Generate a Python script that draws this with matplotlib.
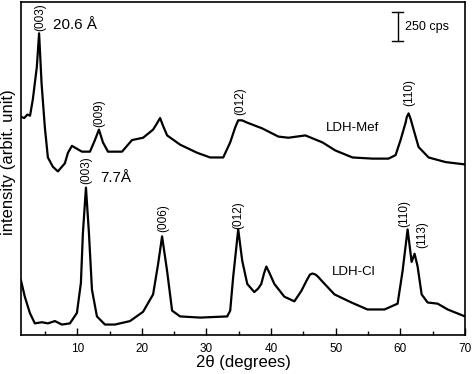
import matplotlib
matplotlib.use("Agg")
import matplotlib.pyplot as plt
from matplotlib.ticker import MultipleLocator

plt.rcParams["font.family"] = ["Liberation Sans", "DejaVu Sans"]

# LDH-Mef pattern (2theta in degrees, intensity in cps incl. offset)
mef_2theta = [1.3, 1.8, 2.3, 2.7, 3.13, 3.75, 4.1, 4.48, 4.99, 5.46, 6.23, 7.01,
              8.09, 8.56, 9.18, 10.73, 11.97, 12.74, 13.36, 13.98, 14.76, 16.93,
              18.48, 20.19, 21.74, 22.3, 22.82, 23.3, 23.91, 25.93, 28.57, 30.57,
              32.59, 33.67, 34.45, 34.91, 35.5, 36.31, 38.64, 41.12, 42.67, 45.30,
              47.94, 49.95, 52.59, 55.69, 58.17, 59.26, 60.03, 60.81, 61.0, 61.27,
              61.6, 62.05, 62.82, 64.37, 67.01, 70.0]
mef_counts = [1880, 1870, 1900, 1890, 2030, 2310, 2600, 2170, 1790, 1530, 1450, 1410,
              1480, 1570, 1630, 1580, 1580, 1680, 1770, 1660, 1580, 1580,
              1680, 1700, 1770, 1820, 1870, 1800, 1720, 1640, 1570, 1530,
              1530, 1660, 1790, 1850, 1850, 1830, 1780, 1710, 1700, 1720,
              1660, 1590, 1530, 1520, 1520, 1550, 1680, 1830, 1880, 1910,
              1860, 1770, 1620, 1530, 1490, 1470]

# LDH-Cl pattern
cl_2theta = [1.3, 1.89, 2.67, 3.44, 4.53, 5.46, 6.54, 7.63, 8.87, 9.95, 10.57, 10.88,
             11.35, 11.81, 12.28, 13.05, 14.29, 15.84, 18.17, 20.19, 21.74, 22.51,
             23.13, 23.91, 24.68, 25.92, 29.02, 33.21, 33.67, 34.13, 34.91, 35.53,
             36.31, 37.39, 38.0, 38.48, 38.9, 39.26, 39.7, 40.1, 40.50, 42.05,
             43.60, 44.68, 45.5, 46.0, 46.39, 46.9, 47.3, 47.78, 49.80, 52.43,
             54.91, 57.55, 59.57, 60.34, 61.12, 61.74, 62.20, 62.67, 63.29, 64.22,
             65.77, 67.32, 70.0]
cl_counts = [470, 330, 190, 100, 110, 100, 120, 90, 100, 190, 450, 880,
             1270, 880, 390, 160, 90, 90, 120, 200, 350, 610,
             850, 550, 210, 160, 150, 160, 210, 500, 910, 640,
             440, 370, 400, 440, 530, 590, 540, 490, 440, 330,
             290, 380, 470, 520, 530, 520, 500, 470, 350, 280,
             220, 220, 270, 550, 910, 630, 700, 590, 350, 280,
             270, 220, 160]

# reflection labels: text, 2theta, intensity of label centre
hkl_labels = ["(003)", "(009)", "(012)", "(110)",
              "(003)", "(006)", "(012)", "(110)", "(113)"]
hkl_x = [4.22, 13.36, 35.22, 61.42, 11.35, 23.29, 34.91, 60.65, 63.44]
hkl_y = [2741, 1914, 2017, 2086, 1422, 1009, 1034, 1043, 862]

fig = plt.figure(figsize=(4.74, 3.74), dpi=100)
ax = fig.add_axes([0.0443, 0.1043, 0.9367, 0.8904])

ax.plot(mef_2theta, mef_counts, color="black", lw=1.6)
ax.plot(cl_2theta, cl_counts, color="black", lw=1.6)

for lab, x, y in zip(hkl_labels, hkl_x, hkl_y):
    ax.text(x, y, lab, rotation=90, ha="center", va="center", fontsize=8.5)

ax.text(6.23, 2672, "20.6 Å", ha="left", va="center", fontsize=11)
ax.text(13.52, 1353, "7.7Å", ha="left", va="center", fontsize=11)
ax.text(48.55, 1784, "LDH-Mef", ha="left", va="center", fontsize=9.5)
ax.text(49.33, 543, "LDH-Cl", ha="left", va="center", fontsize=9.5)

# 250 cps scale bar
ax.plot([59.56, 59.56], [2534, 2784], color="black", lw=1)
ax.plot([58.7, 60.4], [2534, 2534], color="black", lw=1)
ax.plot([58.7, 60.4], [2784, 2784], color="black", lw=1)
ax.text(60.67, 2655, "250 cps", ha="left", va="center", fontsize=9)

ax.set_xlim(1.3, 70)
ax.set_ylim(0, 2870)
ax.xaxis.set_major_locator(MultipleLocator(10))
ax.xaxis.set_minor_locator(MultipleLocator(5))
ax.set_yticks([])
ax.tick_params(axis="x", which="major", direction="in", length=5, width=1, labelsize=8.5, pad=6)
ax.tick_params(axis="x", which="minor", direction="in", length=3, width=1)
for sp in ax.spines.values():
    sp.set_linewidth(1.2)

ax.set_xlabel("2θ (degrees)", fontsize=12, labelpad=0)
ax.set_ylabel("intensity (arbit. unit)", fontsize=12)
ax.yaxis.set_label_coords(-0.012, 0.52)

fig.savefig("out.png", dpi=100)
